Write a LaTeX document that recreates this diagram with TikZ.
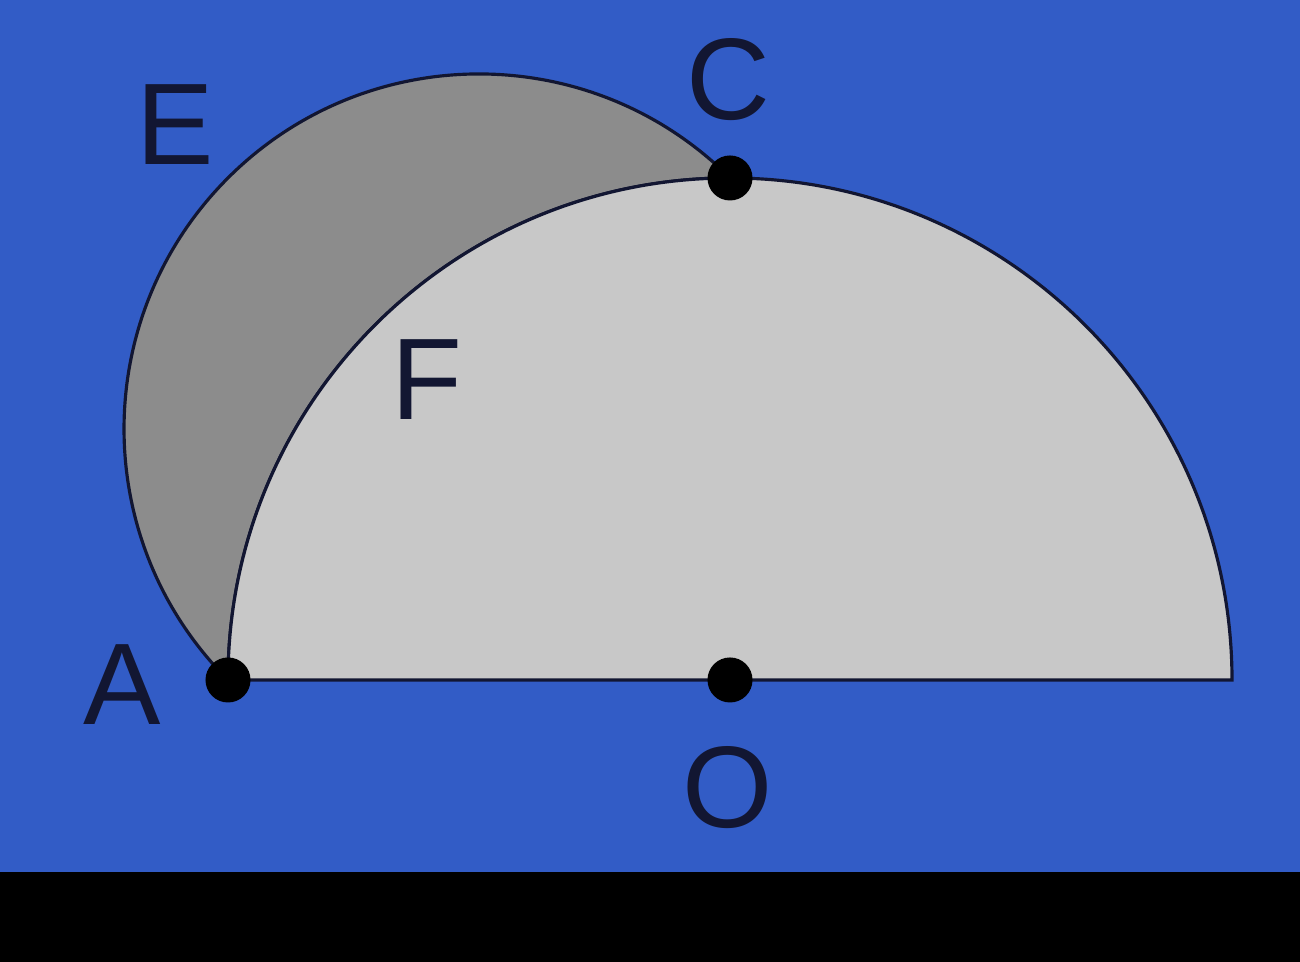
\documentclass[tikz,border=0pt]{standalone}
\usepackage{fontspec}
\setmainfont{Liberation Sans}
\usepackage{tikz}
\usetikzlibrary{positioning, calc}
\usepackage{xcolor}
\definecolor{lunebg}{RGB}{50, 92, 198}
\definecolor{lunedark}{RGB}{140, 140, 140}
\definecolor{lunelight}{RGB}{200, 200, 200}
\definecolor{luneink}{RGB}{18, 22, 50}
\tikzstyle{dot} = [circle, fill=black, inner sep=0pt, minimum size=0.45cm]
\tikzstyle{letter} = [font=\fontsize{33}{36}\selectfont, text=luneink]
\tikzstyle{edge} = [draw=luneink, line width=0.9pt]

\begin{document}
\begin{tikzpicture}[x=0.01cm, y=0.01cm]
% Background
\fill[black] (0,0) rectangle (1300,90);
\fill[lunebg] (0,90) rectangle (1300,962);
\useasboundingbox (0,0) rectangle (1300,962);

% Points
\coordinate (A) at (228,282);
\coordinate (O) at (730,282);
\coordinate (C) at (730,784);
\coordinate (B) at (1232,282);

% Lune
\filldraw[edge, fill=lunedark] (A) arc[start angle=225, end angle=45, radius=355]
    arc[start angle=90, end angle=180, radius=502] -- cycle;

% Half disc
\filldraw[edge, fill=lunelight] (A) arc[start angle=180, end angle=0, radius=502] -- cycle;

% Dots
\node[dot] (dotA) at (A) {};
\node[dot] (dotO) at (O) {};
\node[dot] (dotC) at (C) {};

% Labels
\node[letter] (labE) at (175,837) {E};
\node[letter] (labC) at (728,882) {C};
\node[letter] (labF) at (427,582) {F};
\node[letter] (labA) at (122,277) {A};
\node[letter] (labO) at (728,174) {O};
\end{tikzpicture}
\end{document}
